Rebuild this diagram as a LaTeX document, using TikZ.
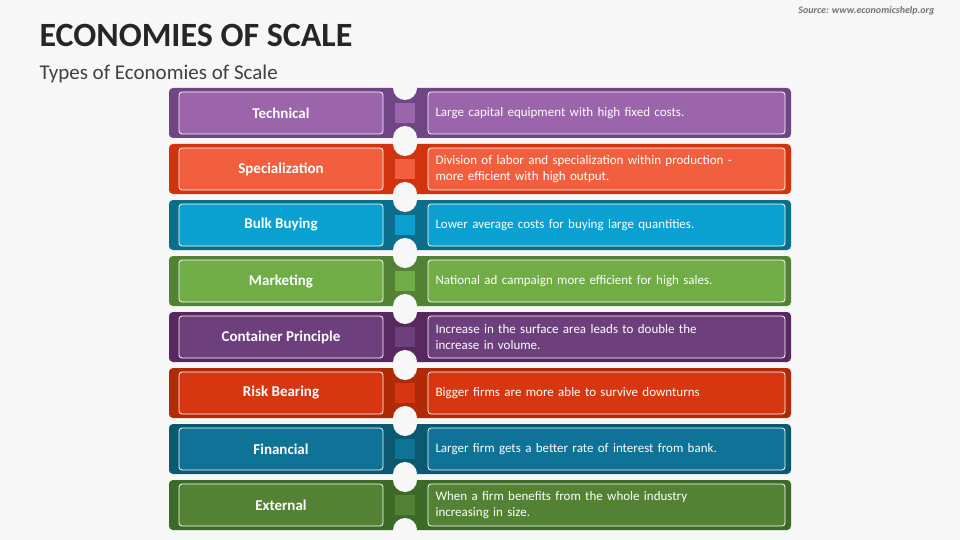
\documentclass[tikz,border=0pt]{standalone}
\usepackage{fontspec}
\setmainfont{Carlito}
\begin{document}
\begin{tikzpicture}[x=1pt,y=-1pt,
  outer/.style={rounded corners=4pt},
  inner/.style={draw=white,line width=0.8pt,rounded corners=3pt},
  lbl/.style={font=\bfseries\fontsize{15}{18}\selectfont,text=white},
  desc/.style={font=\fontsize{13}{16}\selectfont,text=white,align=left,anchor=west,text width=340pt}]
\definecolor{bg}{HTML}{F7F7F7}
\fill[bg] (0,0) rectangle (960,540);
\useasboundingbox (0,0) rectangle (960,540);
\node[anchor=west,font=\bfseries\fontsize{34}{38}\selectfont,text=black!85] (title) at (36,35) {ECONOMIES OF SCALE};
\node[anchor=west,font=\fontsize{21}{24}\selectfont,text=black!75] (sub) at (36,74) {Types of Economies of Scale};
\node[anchor=east,font=\bfseries\itshape\fontsize{10}{12}\selectfont,text=black!55] (src) at (938,11) {Source: www.economicshelp.org};
\foreach \i/\lab/\d/\oc/\ic in {
 0/Technical/{Large capital equipment with high fixed costs.}/6F4586/9B64AB,
 1/Specialization/{Division of labor and specialization within production -\\more efficient with high output.}/D2330F/F15F3F,
 2/Bulk Buying/{Lower average costs for buying large quantities.}/0D6E8C/0AA0CF,
 3/Marketing/{National ad campaign more efficient for high sales.}/548235/70AD47,
 4/Container Principle/{Increase in the surface area leads to double the\\increase in volume.}/58295F/6E3F7D,
 5/Risk Bearing/{Bigger firms are more able to survive downturns}/B02A08/D63610,
 6/Financial/{Larger firm gets a better rate of interest from bank.}/0B5870/0E7396,
 7/External/{When a firm benefits from the whole industry\\increasing in size.}/3E6A28/548235}{
  \pgfmathsetmacro{\yc}{113+56*\i}
  \definecolor{oc}{HTML}{\oc}\definecolor{ic}{HTML}{\ic}
  \fill[oc,outer] (169,\yc-25) rectangle (791,\yc+25);
  \fill[bg] (405,\yc-25) circle (12);
  \fill[bg] (405,\yc+25) circle (12);
  \fill[ic] (395,\yc-10) rectangle (415,\yc+10);
  \node[inner,fill=ic,minimum width=204pt,minimum height=42pt,lbl] (l\i) at (281,\yc) {\lab};
  \node[inner,fill=ic,minimum width=357pt,minimum height=42pt] (r\i) at (606.5,\yc) {};
  \node[desc] (d\i) at (432,\yc) {\d};
}
\end{tikzpicture}
\end{document}
